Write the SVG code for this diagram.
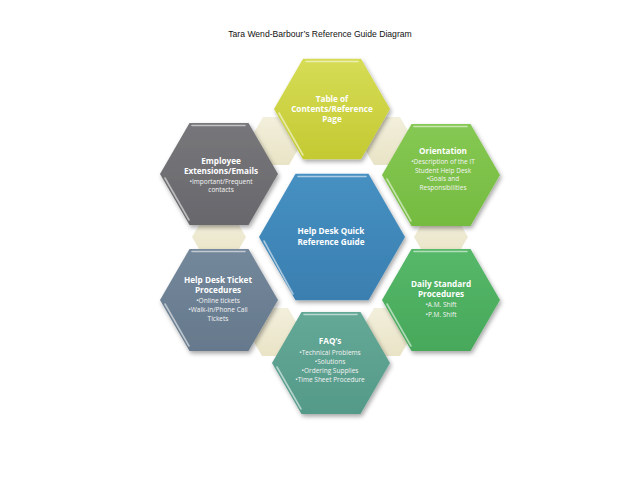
<svg xmlns="http://www.w3.org/2000/svg" width="638" height="493" viewBox="0 0 638 493">
<defs>
<style>
.t{font-family:"Open Sans","Liberation Sans",sans-serif;fill:#ffffff;text-anchor:middle}
.h{font-size:8.2px;font-weight:bold}
.b{font-size:6.5px;fill:#f4f4f4}
.hl{fill:none;stroke:#ffffff;stroke-opacity:.55;stroke-width:1.6;stroke-linecap:round}
.cn{fill:url(#beige)}
</style>
<filter id="sh" x="-20%" y="-20%" width="140%" height="140%">
<feDropShadow dx="1.5" dy="2.5" stdDeviation="2" flood-color="#000" flood-opacity=".35"/>
</filter>
<linearGradient id="beige" x1="0" y1="0" x2="0" y2="1"><stop offset="0" stop-color="#f2efdc"/><stop offset="1" stop-color="#e9e4c6"/></linearGradient>
<linearGradient id="gY" x1="0" y1="0" x2="0" y2="1"><stop offset="0" stop-color="#d6dc55"/><stop offset="1" stop-color="#c4ca32"/></linearGradient>
<linearGradient id="gO" x1="0" y1="0" x2="0" y2="1"><stop offset="0" stop-color="#86c853"/><stop offset="1" stop-color="#74bb40"/></linearGradient>
<linearGradient id="gD" x1="0" y1="0" x2="0" y2="1"><stop offset="0" stop-color="#56b869"/><stop offset="1" stop-color="#47a85a"/></linearGradient>
<linearGradient id="gF" x1="0" y1="0" x2="0" y2="1"><stop offset="0" stop-color="#64a896"/><stop offset="1" stop-color="#559a89"/></linearGradient>
<linearGradient id="gT" x1="0" y1="0" x2="0" y2="1"><stop offset="0" stop-color="#74889b"/><stop offset="1" stop-color="#66798c"/></linearGradient>
<linearGradient id="gE" x1="0" y1="0" x2="0" y2="1"><stop offset="0" stop-color="#77777b"/><stop offset="1" stop-color="#68686c"/></linearGradient>
<linearGradient id="gC" x1="0" y1="0" x2="0" y2="1"><stop offset="0" stop-color="#4690c2"/><stop offset="1" stop-color="#3a7fb0"/></linearGradient>
</defs>
<rect width="638" height="493" fill="#ffffff"/>
<text x="320" y="37" font-family="'Liberation Sans',Arial,sans-serif" font-size="8.6" fill="#111" text-anchor="middle">Tara Wend-Barbour’s Reference Guide Diagram</text>

<g id="connectors">
<polygon class="cn" points="360,141 374,117 400,117 414,141 400,165 374,165"/>
<polygon class="cn" points="414,237 428,213 454,213 468,237 454,261 428,261"/>
<polygon class="cn" points="360,332 374,308 400,308 414,332 400,356 374,356"/>
<polygon class="cn" points="248,332 262,308 288,308 302,332 288,356 262,356"/>
<polygon class="cn" points="192,237 206,213 232,213 246,237 232,261 206,261"/>
<polygon class="cn" points="249,141 263,117 289,117 303,141 289,165 263,165"/>
</g>

<g id="node-top">
<polygon points="274,109 303,58.8 361,58.8 390,109 361,159.2 303,159.2" fill="url(#gY)" filter="url(#sh)"/>
<polyline class="hl" points="306,61.5 358,61.5"/>
<polyline class="hl" points="279,113 303,155"/>
<text class="t h" x="332" y="102">Table of</text>
<text class="t h" x="332" y="112">Contents/Reference</text>
<text class="t h" x="332" y="122">Page</text>
</g>

<g id="node-orientation">
<polygon points="382,175 411.5,123.9 470.5,123.9 500,175 470.5,226.1 411.5,226.1" fill="url(#gO)" filter="url(#sh)"/>
<polyline class="hl" points="414,126.5 467,126.5"/>
<polyline class="hl" points="387,179 411,221"/>
<text class="t h" x="443" y="154">Orientation</text>
<text class="t b" x="443" y="164">•Description of the IT</text>
<text class="t b" x="443" y="172.5">Student Help Desk</text>
<text class="t b" x="443" y="181">•Goals and</text>
<text class="t b" x="443" y="189.5">Responsibilities</text>
</g>

<g id="node-daily">
<polygon points="382,300 411.5,248.9 470.5,248.9 500,300 470.5,351.1 411.5,351.1" fill="url(#gD)" filter="url(#sh)"/>
<polyline class="hl" points="414,251.5 467,251.5"/>
<polyline class="hl" points="387,304 411,346"/>
<text class="t h" x="441" y="287">Daily Standard</text>
<text class="t h" x="441" y="297">Procedures</text>
<text class="t b" x="441" y="307">•A.M. Shift</text>
<text class="t b" x="441" y="317">•P.M. Shift</text>
</g>

<g id="node-faq">
<polygon points="272,363 301.5,311.9 360.5,311.9 390,363 360.5,414.1 301.5,414.1" fill="url(#gF)" filter="url(#sh)"/>
<polyline class="hl" points="304,314.5 357,314.5"/>
<polyline class="hl" points="277,367 301,409"/>
<text class="t h" x="330" y="344">FAQ’s</text>
<text class="t b" x="330" y="355">•Technical Problems</text>
<text class="t b" x="330" y="364">•Solutions</text>
<text class="t b" x="330" y="373">•Ordering Supplies</text>
<text class="t b" x="330" y="382">•Time Sheet Procedure</text>
</g>

<g id="node-ticket">
<polygon points="160,300 189.5,248.9 248.5,248.9 278,300 248.5,351.1 189.5,351.1" fill="url(#gT)" filter="url(#sh)"/>
<polyline class="hl" points="192,251.5 245,251.5"/>
<polyline class="hl" points="165,304 189,346"/>
<text class="t h" x="218" y="283">Help Desk Ticket</text>
<text class="t h" x="218" y="293">Procedures</text>
<text class="t b" x="218" y="303">•Online tickets</text>
<text class="t b" x="218" y="312">•Walk-in/Phone Call</text>
<text class="t b" x="218" y="320.5">Tickets</text>
</g>

<g id="node-employee">
<polygon points="160,174 189.5,122.9 248.5,122.9 278,174 248.5,225.1 189.5,225.1" fill="url(#gE)" filter="url(#sh)"/>
<polyline class="hl" points="192,125.5 245,125.5"/>
<polyline class="hl" points="165,178 189,220"/>
<text class="t h" x="221" y="164">Employee</text>
<text class="t h" x="221" y="174">Extensions/Emails</text>
<text class="t b" x="221" y="184">•Important/Frequent</text>
<text class="t b" x="221" y="192">contacts</text>
</g>

<g id="node-center">
<polygon points="259,237 295.5,173.8 368.5,173.8 405,237 368.5,300.2 295.5,300.2" fill="url(#gC)" filter="url(#sh)"/>
<polyline class="hl" points="298,176.5 366,176.5"/>
<polyline class="hl" points="264,241 293,294"/>
<text class="t h" x="331" y="234">Help Desk Quick</text>
<text class="t h" x="331" y="245">Reference Guide</text>
</g>
</svg>
